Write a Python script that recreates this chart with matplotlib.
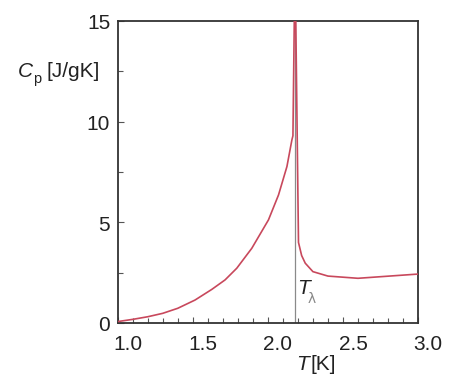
import numpy as np
import matplotlib
matplotlib.use("Agg")
import matplotlib.pyplot as plt
from matplotlib.transforms import ScaledTranslation, blended_transform_factory
from matplotlib.ticker import MultipleLocator

# specificna toplina helija oko lambda tocke
T = [1.0, 1.10, 1.20, 1.30, 1.40, 1.515, 1.627, 1.715, 1.793, 1.893, 2.004, 2.071, 2.127, 2.16, 2.167,
     2.176, 2.186, 2.204, 2.225, 2.249, 2.30, 2.40, 2.60, 3.0]
Cp = [0.07, 0.18, 0.31, 0.48, 0.73, 1.14, 1.67, 2.14, 2.72, 3.71, 5.12, 6.36, 7.77, 9.09, 9.3,
      15.0, 15.0, 4.0, 3.35, 2.97, 2.55, 2.33, 2.22, 2.43]
t_lambda = 2.18

x_ticks = [1.0, 1.5, 2.0, 2.5, 3.0]
x_labels = ["1.0", "1.5", "2.0", "2.5", "3.0"]
y_ticks = [0, 5, 10, 15]
y_labels = ["0", "5", "10", "15"]

plt.rcParams['font.family'] = ['Liberation Sans', 'DejaVu Sans']

fig = plt.figure(figsize=(4.74, 3.87), dpi=100)
ax = fig.add_axes([0.2483, 0.1654, 0.6336, 0.7804])

ax.plot(T, Cp, color='#c8485c', lw=1.2, clip_on=True, zorder=3)
ax.axvline(t_lambda, color='#8a8a8a', lw=0.9, zorder=2)

ax.set_xlim(1.0, 3.0)
ax.set_ylim(0, 15)

for s in ax.spines.values():
    s.set_color('#333333')
    s.set_linewidth(1.3)

ax.xaxis.set_major_locator(MultipleLocator(0.5))
ax.xaxis.set_minor_locator(MultipleLocator(0.1))
ax.yaxis.set_major_locator(MultipleLocator(5))
ax.yaxis.set_minor_locator(MultipleLocator(2.5))
ax.tick_params(which='both', direction='in', top=False, right=False,
               labelbottom=False, labelleft=False, color='#555555', width=0.8)
ax.tick_params(which='major', length=4)
ax.tick_params(which='minor', length=3.5)

# oznake osi, malo pomaknute kao na originalu
bx = blended_transform_factory(ax.transData, ax.transAxes)
for v, lab in zip(x_ticks, x_labels):
    ax.text(v, 0, lab, transform=bx + ScaledTranslation(0.10, -0.12, fig.dpi_scale_trans),
            ha='center', va='top', fontsize=15, color='#222222')
by = blended_transform_factory(ax.transAxes, ax.transData)
for v, lab in zip(y_ticks, y_labels):
    ax.text(0, v, lab, transform=by + ScaledTranslation(-0.075, -0.03, fig.dpi_scale_trans),
            ha='right', va='center', fontsize=15, color='#222222')

# naslovi osi
W, H = 474, 387
fig.text(18 / W, 1 - 77 / H, "C", fontsize=15, style='italic', va='baseline', color='#222222')
fig.text(33 / W, 1 - 83 / H, "p", fontsize=10.5, va='baseline', color='#222222')
fig.text(47 / W, 1 - 77 / H, "[J/gK]", fontsize=15, va='baseline', color='#222222')

fig.text(296 / W, 1 - 370 / H, "T", fontsize=15, style='italic', va='baseline', color='#222222')
fig.text(310 / W, 1 - 370 / H, "[K]", fontsize=15, va='baseline', color='#222222')

fig.text(297 / W, 1 - 294 / H, "T", fontsize=15, style='italic', va='baseline', color='#222222')
fig.text(308 / W, 1 - 303 / H, "λ", fontsize=10, va='baseline', color='#888888',
         family=['DejaVu Sans'])

fig.savefig("out.png", dpi=100)
